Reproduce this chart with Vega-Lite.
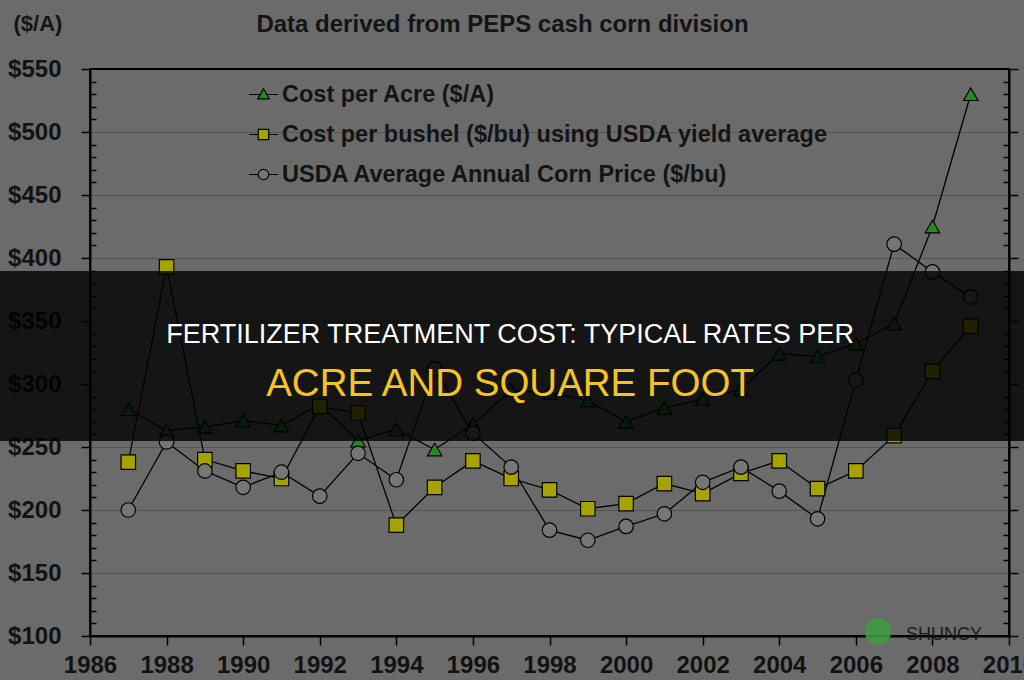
{
  "$schema": "https://vega.github.io/schema/vega-lite/v6.json",
  "width": 919,
  "height": 567,
  "autosize": {"type": "none"},
  "padding": {"left": 90, "top": 69, "right": 15, "bottom": 44},
  "background": "#6b6b6b",
  "config": {"view": {"stroke": "#000000", "strokeWidth": 2, "fill": "#6c6c6c"}, "font": "Liberation Sans"},
  "title": {"text": "Data derived from PEPS cash corn division", "font": "Liberation Sans", "fontSize": 24, "fontWeight": "bold", "color": "#141414", "anchor": "middle", "dx": -47, "offset": -25},
  "datasets": {
    "series": [
      {"year": 1987, "series": "Cost per Acre ($/A)", "value": 280},
      {"year": 1988, "series": "Cost per Acre ($/A)", "value": 263},
      {"year": 1989, "series": "Cost per Acre ($/A)", "value": 266},
      {"year": 1990, "series": "Cost per Acre ($/A)", "value": 271},
      {"year": 1991, "series": "Cost per Acre ($/A)", "value": 267},
      {"year": 1992, "series": "Cost per Acre ($/A)", "value": 284},
      {"year": 1993, "series": "Cost per Acre ($/A)", "value": 255},
      {"year": 1994, "series": "Cost per Acre ($/A)", "value": 264},
      {"year": 1995, "series": "Cost per Acre ($/A)", "value": 248},
      {"year": 1996, "series": "Cost per Acre ($/A)", "value": 268},
      {"year": 1997, "series": "Cost per Acre ($/A)", "value": 295},
      {"year": 1998, "series": "Cost per Acre ($/A)", "value": 293},
      {"year": 1999, "series": "Cost per Acre ($/A)", "value": 287},
      {"year": 2000, "series": "Cost per Acre ($/A)", "value": 270},
      {"year": 2001, "series": "Cost per Acre ($/A)", "value": 281},
      {"year": 2002, "series": "Cost per Acre ($/A)", "value": 288},
      {"year": 2003, "series": "Cost per Acre ($/A)", "value": 296},
      {"year": 2004, "series": "Cost per Acre ($/A)", "value": 324},
      {"year": 2005, "series": "Cost per Acre ($/A)", "value": 322},
      {"year": 2006, "series": "Cost per Acre ($/A)", "value": 332},
      {"year": 2007, "series": "Cost per Acre ($/A)", "value": 348},
      {"year": 2008, "series": "Cost per Acre ($/A)", "value": 425},
      {"year": 2009, "series": "Cost per Acre ($/A)", "value": 530},
      {"year": 1987, "series": "Cost per bushel ($/bu) using USDA yield average", "value": 238},
      {"year": 1988, "series": "Cost per bushel ($/bu) using USDA yield average", "value": 393},
      {"year": 1989, "series": "Cost per bushel ($/bu) using USDA yield average", "value": 240},
      {"year": 1990, "series": "Cost per bushel ($/bu) using USDA yield average", "value": 231},
      {"year": 1991, "series": "Cost per bushel ($/bu) using USDA yield average", "value": 225},
      {"year": 1992, "series": "Cost per bushel ($/bu) using USDA yield average", "value": 282},
      {"year": 1993, "series": "Cost per bushel ($/bu) using USDA yield average", "value": 277},
      {"year": 1994, "series": "Cost per bushel ($/bu) using USDA yield average", "value": 188},
      {"year": 1995, "series": "Cost per bushel ($/bu) using USDA yield average", "value": 218},
      {"year": 1996, "series": "Cost per bushel ($/bu) using USDA yield average", "value": 239},
      {"year": 1997, "series": "Cost per bushel ($/bu) using USDA yield average", "value": 225},
      {"year": 1998, "series": "Cost per bushel ($/bu) using USDA yield average", "value": 216},
      {"year": 1999, "series": "Cost per bushel ($/bu) using USDA yield average", "value": 201},
      {"year": 2000, "series": "Cost per bushel ($/bu) using USDA yield average", "value": 205},
      {"year": 2001, "series": "Cost per bushel ($/bu) using USDA yield average", "value": 221},
      {"year": 2002, "series": "Cost per bushel ($/bu) using USDA yield average", "value": 213},
      {"year": 2003, "series": "Cost per bushel ($/bu) using USDA yield average", "value": 229},
      {"year": 2004, "series": "Cost per bushel ($/bu) using USDA yield average", "value": 239},
      {"year": 2005, "series": "Cost per bushel ($/bu) using USDA yield average", "value": 217},
      {"year": 2006, "series": "Cost per bushel ($/bu) using USDA yield average", "value": 231},
      {"year": 2007, "series": "Cost per bushel ($/bu) using USDA yield average", "value": 259},
      {"year": 2008, "series": "Cost per bushel ($/bu) using USDA yield average", "value": 310},
      {"year": 2009, "series": "Cost per bushel ($/bu) using USDA yield average", "value": 346},
      {"year": 1987, "series": "USDA Average Annual Corn Price ($/bu)", "value": 200},
      {"year": 1988, "series": "USDA Average Annual Corn Price ($/bu)", "value": 254},
      {"year": 1989, "series": "USDA Average Annual Corn Price ($/bu)", "value": 231},
      {"year": 1990, "series": "USDA Average Annual Corn Price ($/bu)", "value": 218},
      {"year": 1991, "series": "USDA Average Annual Corn Price ($/bu)", "value": 230},
      {"year": 1992, "series": "USDA Average Annual Corn Price ($/bu)", "value": 211},
      {"year": 1993, "series": "USDA Average Annual Corn Price ($/bu)", "value": 245},
      {"year": 1994, "series": "USDA Average Annual Corn Price ($/bu)", "value": 224},
      {"year": 1995, "series": "USDA Average Annual Corn Price ($/bu)", "value": 312},
      {"year": 1996, "series": "USDA Average Annual Corn Price ($/bu)", "value": 261},
      {"year": 1997, "series": "USDA Average Annual Corn Price ($/bu)", "value": 234},
      {"year": 1998, "series": "USDA Average Annual Corn Price ($/bu)", "value": 184},
      {"year": 1999, "series": "USDA Average Annual Corn Price ($/bu)", "value": 176},
      {"year": 2000, "series": "USDA Average Annual Corn Price ($/bu)", "value": 187},
      {"year": 2001, "series": "USDA Average Annual Corn Price ($/bu)", "value": 197},
      {"year": 2002, "series": "USDA Average Annual Corn Price ($/bu)", "value": 222},
      {"year": 2003, "series": "USDA Average Annual Corn Price ($/bu)", "value": 234},
      {"year": 2004, "series": "USDA Average Annual Corn Price ($/bu)", "value": 215},
      {"year": 2005, "series": "USDA Average Annual Corn Price ($/bu)", "value": 193},
      {"year": 2006, "series": "USDA Average Annual Corn Price ($/bu)", "value": 303},
      {"year": 2007, "series": "USDA Average Annual Corn Price ($/bu)", "value": 411},
      {"year": 2008, "series": "USDA Average Annual Corn Price ($/bu)", "value": 389},
      {"year": 2009, "series": "USDA Average Annual Corn Price ($/bu)", "value": 369}
    ]
  },
  "layer": [
    {
      "data": {"name": "series"},
      "mark": {"type": "line", "color": "#000000", "strokeWidth": 1.3},
      "encoding": {
        "x": {
          "field": "year", "type": "quantitative",
          "scale": {"domain": [1986, 2010], "nice": false, "zero": false},
          "axis": {
            "title": null,
            "values": [1986,1987,1988,1989,1990,1991,1992,1993,1994,1995,1996,1997,1998,1999,2000,2001,2002,2003,2004,2005,2006,2007,2008,2009,2010],
            "labelExpr": "datum.value % 2 === 0 ? '' + datum.value : ''",
            "tickSize": {"condition": {"test": "datum.value % 2 === 0", "value": 9}, "value": -7},
            "tickColor": "#000000", "tickWidth": 1.5,
            "domainColor": "#000000", "domainWidth": 2,
            "labelFont": "Liberation Sans", "labelFontSize": 24, "labelFontWeight": "bold", "labelColor": "#121212",
            "labelPadding": 8, "labelOverlap": false, "labelFlush": false, "grid": false
          }
        },
        "y": {
          "field": "value", "type": "quantitative",
          "scale": {"domain": [100, 550], "nice": false, "zero": false},
          "axis": {
            "orient": "left",
            "values": [100,110,120,130,140,150,160,170,180,190,200,210,220,230,240,250,260,270,280,290,300,310,320,330,340,350,360,370,380,390,400,410,420,430,440,450,460,470,480,490,500,510,520,530,540,550],
            "title": "($/A)", "titleAngle": 0, "titleX": -77, "titleY": -39, "titleAlign": "left", "titleBaseline": "alphabetic",
            "titleFont": "Liberation Sans", "titleFontSize": 22, "titleFontWeight": "bold", "titleColor": "#141414",
            "labelExpr": "datum.value % 50 === 0 ? '$' + datum.value : ''",
            "tickSize": {"condition": {"test": "datum.value % 50 === 0", "value": 9}, "value": -6},
            "tickColor": "#000000", "tickWidth": 1.5,
            "domainColor": "#000000", "domainWidth": 2,
            "grid": true, "gridColor": "#555555", "gridWidth": 1.2,
            "gridOpacity": {"condition": {"test": "datum.value % 50 === 0 && datum.value > 100 && datum.value < 550", "value": 1}, "value": 0},
            "labelFont": "Liberation Sans", "labelFontSize": 24, "labelFontWeight": "bold", "labelColor": "#121212",
            "labelPadding": 20, "labelOverlap": false
          }
        },
        "detail": {"field": "series", "type": "nominal"}
      }
    },
    {
      "data": {"name": "series"},
      "mark": {"type": "point", "filled": true, "stroke": "#000000", "strokeWidth": 1.2, "size": 210, "opacity": 1},
      "encoding": {
        "x": {"field": "year", "type": "quantitative"},
        "y": {
          "field": "value", "type": "quantitative",
          "axis": {
            "orient": "right",
            "values": [100,110,120,130,140,150,160,170,180,190,200,210,220,230,240,250,260,270,280,290,300,310,320,330,340,350,360,370,380,390,400,410,420,430,440,450,460,470,480,490,500,510,520,530,540,550],
            "labels": false, "title": null, "grid": false,
            "tickSize": {"condition": {"test": "datum.value % 50 === 0", "value": 9}, "value": -6},
            "tickColor": "#000000", "tickWidth": 1.5,
            "domainColor": "#000000", "domainWidth": 2
          }
        },
        "shape": {
          "field": "series", "type": "nominal",
          "scale": {"domain": ["Cost per Acre ($/A)", "Cost per bushel ($/bu) using USDA yield average", "USDA Average Annual Corn Price ($/bu)"], "range": ["triangle-up", "square", "circle"]},
          "legend": null
        },
        "fill": {
          "field": "series", "type": "nominal",
          "scale": {"domain": ["Cost per Acre ($/A)", "Cost per bushel ($/bu) using USDA yield average", "USDA Average Annual Corn Price ($/bu)"], "range": ["#1e8c1e", "#a6a300", "#767676"]},
          "legend": null
        }
      }
    },
    {
      "data": {"name": "series"},
      "transform": [{"filter": "datum.year < 0"}],
      "mark": {"type": "point", "filled": true, "strokeWidth": 1.2, "opacity": 1},
      "encoding": {
        "shape": {
          "field": "series", "type": "nominal",
          "scale": {"domain": ["Cost per Acre ($/A)", "Cost per bushel ($/bu) using USDA yield average", "USDA Average Annual Corn Price ($/bu)"], "range": ["M-1,0H-0.23M0.23,0H1M0,-0.4L0.4,0.3L-0.4,0.3Z", "M-1,0H-0.36M0.36,0H1M-0.36,-0.36H0.36V0.36H-0.36Z", "M-1,0H-0.36M0.36,0H1M-0.36,0A0.36,0.36,0,1,0,0.36,0A0.36,0.36,0,1,0,-0.36,0Z"]},
          "legend": {
            "title": null, "orient": "none", "legendX": 158, "legendY": 10, "padding": 0,
            "symbolSize": 841, "symbolStrokeWidth": 1.2,
            "labelFont": "Liberation Sans", "labelFontSize": 23.5, "labelFontWeight": "bold", "labelColor": "#141414",
            "labelOffset": 3, "rowPadding": 13, "labelLimit": 1000
          }
        },
        "fill": {
          "field": "series", "type": "nominal",
          "scale": {"domain": ["Cost per Acre ($/A)", "Cost per bushel ($/bu) using USDA yield average", "USDA Average Annual Corn Price ($/bu)"], "range": ["#1e8c1e", "#a6a300", "#767676"]},
          "legend": {
            "title": null, "orient": "none", "legendX": 158, "legendY": 10, "padding": 0,
            "symbolSize": 841, "symbolStrokeWidth": 1.2,
            "labelFont": "Liberation Sans", "labelFontSize": 23.5, "labelFontWeight": "bold", "labelColor": "#141414",
            "labelOffset": 3, "rowPadding": 13, "labelLimit": 1000
          }
        },
        "stroke": {
          "field": "series", "type": "nominal",
          "scale": {"domain": ["Cost per Acre ($/A)", "Cost per bushel ($/bu) using USDA yield average", "USDA Average Annual Corn Price ($/bu)"], "range": ["#000000", "#000000", "#000000"]},
          "legend": {
            "title": null, "orient": "none", "legendX": 158, "legendY": 10, "padding": 0,
            "symbolSize": 841, "symbolStrokeWidth": 1.2,
            "labelFont": "Liberation Sans", "labelFontSize": 23.5, "labelFontWeight": "bold", "labelColor": "#141414",
            "labelOffset": 3, "rowPadding": 13, "labelLimit": 1000
          }
        }
      }
    },
    {
      "data": {"values": [{}]},
      "mark": {"type": "rect", "color": "#000000", "opacity": 0.8},
      "encoding": {
        "x": {"datum": 1983}, "x2": {"datum": 2011},
        "y": {"datum": 389.7, "axis": null}, "y2": {"datum": 254.8}
      }
    },
    {
      "data": {"values": [{}]},
      "mark": {"type": "text", "text": "FERTILIZER TREATMENT COST: TYPICAL RATES PER", "font": "Liberation Sans", "fontSize": 27, "color": "#ffffff", "align": "center", "baseline": "alphabetic"},
      "encoding": {"x": {"datum": 1996.97}, "y": {"datum": 332.5, "axis": null}}
    },
    {
      "data": {"values": [{}]},
      "mark": {"type": "text", "text": "ACRE AND SQUARE FOOT", "font": "Liberation Sans", "fontSize": 38.5, "color": "#f6c324", "align": "center", "baseline": "alphabetic"},
      "encoding": {"x": {"datum": 1996.97}, "y": {"datum": 290.5, "axis": null}}
    },
    {
      "data": {"values": [{}]},
      "mark": {"type": "point", "shape": "circle", "filled": true, "color": "#3f9b3f", "size": 700, "opacity": 0.9},
      "encoding": {"x": {"datum": 2006.58}, "y": {"datum": 103.5, "axis": null}}
    },
    {
      "data": {"values": [{}]},
      "mark": {"type": "text", "text": "SHUNCY", "font": "Liberation Sans", "fontSize": 18, "color": "#1a1a1a", "align": "center", "baseline": "alphabetic"},
      "encoding": {"x": {"datum": 2008.3}, "y": {"datum": 96.8, "axis": null}}
    }
  ],
  "resolve": {"axis": {"y": "independent"}, "scale": {"shape": "independent", "fill": "independent", "stroke": "independent"}}
}
